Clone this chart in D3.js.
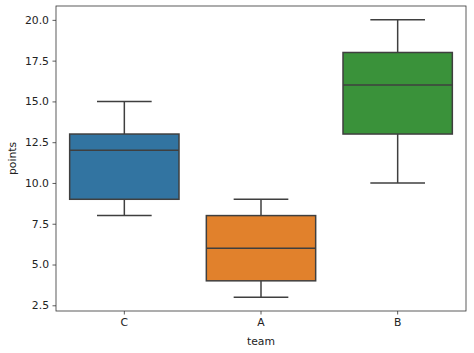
<!DOCTYPE html>
<html><head><meta charset="utf-8">
<script src="https://d3js.org/d3.v7.min.js"></script>
<style>body{margin:0;background:#fff}svg{display:block}text{font-family:"DejaVu Sans",sans-serif}</style>
</head><body><svg id="c" width="474" height="353"></svg>
<script>
const teams = ["C","A","B"];
const whiskerLow = [8,3,10];
const q1 = [9,4,13];
const median = [12,6,16];
const q3 = [13,8,18];
const whiskerHigh = [15,9,20];
const colors = ["#3274a1","#e1812c","#3a923a"];
const yTicks = [2.5,5.0,7.5,10.0,12.5,15.0,17.5,20.0];

const svg = d3.select("#c");
const L=56, R=466, T=6, B=311;
const x = d3.scaleBand().domain(teams).range([L,R]).padding(0);
const lo = 3, hi = 20, m = (hi-lo)*0.05;
const y = d3.scaleLinear().domain([lo-m, hi+m]).range([B,T]);
const line = "#3f3f3f";
const bw = x.bandwidth()*0.8;

const g = svg.append("g");
teams.forEach((t,i)=>{
  const cx = x(t)+x.bandwidth()/2;
  g.append("line").attr("x1",cx).attr("x2",cx).attr("y1",y(whiskerLow[i])).attr("y2",y(q1[i])).attr("stroke",line).attr("stroke-width",1.5);
  g.append("line").attr("x1",cx).attr("x2",cx).attr("y1",y(q3[i])).attr("y2",y(whiskerHigh[i])).attr("stroke",line).attr("stroke-width",1.5);
  g.append("line").attr("x1",cx-bw/4).attr("x2",cx+bw/4).attr("y1",y(whiskerLow[i])).attr("y2",y(whiskerLow[i])).attr("stroke",line).attr("stroke-width",1.5);
  g.append("line").attr("x1",cx-bw/4).attr("x2",cx+bw/4).attr("y1",y(whiskerHigh[i])).attr("y2",y(whiskerHigh[i])).attr("stroke",line).attr("stroke-width",1.5);
  g.append("rect").attr("x",cx-bw/2).attr("width",bw).attr("y",y(q3[i])).attr("height",y(q1[i])-y(q3[i])).attr("fill",colors[i]).attr("stroke",line).attr("stroke-width",1.5);
  g.append("line").attr("x1",cx-bw/2).attr("x2",cx+bw/2).attr("y1",y(median[i])).attr("y2",y(median[i])).attr("stroke",line).attr("stroke-width",1.5);
});

const yAxis = svg.append("g").attr("transform",`translate(${L},0)`)
  .call(d3.axisLeft(y).tickValues(yTicks).tickFormat(d3.format(".1f")).tickSizeOuter(0).tickSize(3.5).tickPadding(3.5));
const xAxis = svg.append("g").attr("transform",`translate(0,${B})`)
  .call(d3.axisBottom(x).tickSizeOuter(0).tickSize(3.5).tickPadding(3.5));
[yAxis,xAxis].forEach(a=>{
  a.select(".domain").remove();
  a.selectAll("line").attr("stroke","#333").attr("stroke-width",0.8);
  a.selectAll("text").attr("font-size","10.8px").attr("fill","#222").attr("font-family","DejaVu Sans, sans-serif");
});
svg.append("rect").attr("x",L).attr("y",T).attr("width",R-L).attr("height",B-T).attr("fill","none").attr("stroke","#333").attr("stroke-width",0.8);

svg.append("text").attr("x",(L+R)/2).attr("y",345).attr("text-anchor","middle").attr("font-size","10.8px").attr("fill","#222").text("team");
svg.append("text").attr("transform",`translate(16,${(T+B)/2}) rotate(-90)`).attr("text-anchor","middle").attr("font-size","10.8px").attr("fill","#222").text("points");
</script></body></html>
